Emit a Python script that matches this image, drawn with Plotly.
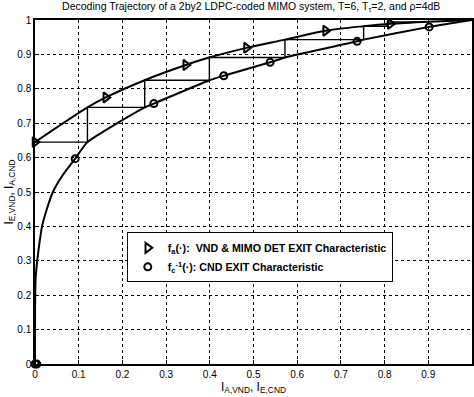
import plotly.graph_objects as go

# Upper curve: VND & MIMO DET EXIT characteristic
vnd_x = [0.0, 0.12, 0.162, 0.251, 0.345, 0.399, 0.484, 0.572, 0.665, 0.752, 0.813, 0.90, 1.0]
vnd_y = [0.645, 0.746, 0.775, 0.825, 0.869, 0.891, 0.919, 0.943, 0.969, 0.982, 0.989, 0.995, 1.0]
# Lower curve: CND EXIT characteristic
cnd_x = [0.0, 0.0, 0.0005, 0.0015, 0.005, 0.01, 0.016, 0.027, 0.041, 0.064, 0.092, 0.12, 0.251, 0.272, 0.399, 0.432, 0.538, 0.572, 0.737, 0.752, 0.902, 1.0]
cnd_y = [0.0, 0.1, 0.2, 0.25, 0.3, 0.35, 0.4, 0.45, 0.5, 0.55, 0.597, 0.645, 0.746, 0.757, 0.825, 0.838, 0.877, 0.891, 0.938, 0.943, 0.980, 1.0]
# Marker positions
tri_x = [0.0, 0.162, 0.345, 0.484, 0.665, 0.813]
tri_y = [0.645, 0.775, 0.869, 0.919, 0.969, 0.989]
circ_x = [0.0, 0.004, 0.092, 0.272, 0.432, 0.538, 0.737, 0.902]
circ_y = [0.0, 0.0, 0.597, 0.757, 0.838, 0.877, 0.938, 0.980]
# Decoding trajectory (staircase)
traj_x = [0.0, 0.12, 0.12, 0.251, 0.251, 0.399, 0.399, 0.572, 0.572, 0.752, 0.752, 0.806, 0.806, 0.88]
traj_y = [0.645, 0.645, 0.746, 0.746, 0.825, 0.825, 0.891, 0.891, 0.943, 0.943, 0.982, 0.982, 0.994, 0.994]

tick_vals = [0, 0.1, 0.2, 0.3, 0.4, 0.5, 0.6, 0.7, 0.8, 0.9, 1]
tick_text = ["0", "0.1", "0.2", "0.3", "0.4", "0.5", "0.6", "0.7", "0.8", "0.9", "1"]

FONT = "Liberation Sans, Arial"

fig = go.Figure()
fig.add_trace(go.Scatter(x=traj_x, y=traj_y, mode="lines",
                         line=dict(color="black", width=1.4), showlegend=False, hoverinfo="skip"))
fig.add_trace(go.Scatter(x=vnd_x, y=vnd_y, mode="lines",
                         line=dict(color="black", width=2, shape="spline", smoothing=0.8),
                         showlegend=False))
fig.add_trace(go.Scatter(x=cnd_x, y=cnd_y, mode="lines",
                         line=dict(color="black", width=2, shape="spline", smoothing=0.5),
                         showlegend=False))
fig.add_trace(go.Scatter(x=tri_x, y=tri_y, mode="markers",
                         marker=dict(symbol="triangle-right-open", size=9, color="black",
                                     line=dict(width=2, color="black")),
                         name="<b>f<sub>a</sub>(·):  VND & MIMO DET EXIT Characteristic</b>",
                         cliponaxis=False))
fig.add_trace(go.Scatter(x=circ_x, y=circ_y, mode="markers",
                         marker=dict(symbol="circle-open", size=7, color="black",
                                     line=dict(width=2, color="black")),
                         name="<b>f<sub>c</sub><sup>-1</sup>(·): CND EXIT Characteristic</b>",
                         cliponaxis=False))

axis_common = dict(
    range=[0, 1], tickvals=tick_vals, ticktext=tick_text,
    showgrid=True, gridcolor="black", griddash="dot", gridwidth=1,
    showline=True, linecolor="black", linewidth=1.5, mirror=True,
    ticks="inside", ticklen=4, tickcolor="black", automargin=False,
    zeroline=False, tickfont=dict(family=FONT, size=10, color="black"),
)

fig.update_layout(
    width=474, height=397,
    margin=dict(l=35, r=2, t=20, b=33, autoexpand=False),
    paper_bgcolor="white", plot_bgcolor="white",
    title=dict(text="Decoding Trajectory of a 2by2 LDPC-coded MIMO system, T=6, T<sub>τ</sub>=2, and ρ=4dB",
               x=0.53, xanchor="center", y=0.993, yanchor="top",
               font=dict(family=FONT, size=10.5, color="black")),
    xaxis=dict(**axis_common,
               title=dict(text="I<sub>A,VND</sub>, I<sub>E,CND</sub>", standoff=0,
                          font=dict(family=FONT, size=12, color="black"))),
    yaxis=dict(**axis_common,
               title=dict(text="I<sub>E,VND</sub>, I<sub>A,CND</sub>", standoff=0,
                          font=dict(family=FONT, size=12, color="black"))),
    legend=dict(x=0.21, y=0.31, xanchor="left", yanchor="middle",
                bgcolor="white", bordercolor="black", borderwidth=1,
                font=dict(family=FONT, size=10.7, color="black"),
                tracegroupgap=0, itemwidth=30),
    showlegend=True,
)

fig.write_html("out.html", config={"displayModeBar": False},
               post_script="document.body.style.margin='0';document.body.style.overflow='hidden';")
